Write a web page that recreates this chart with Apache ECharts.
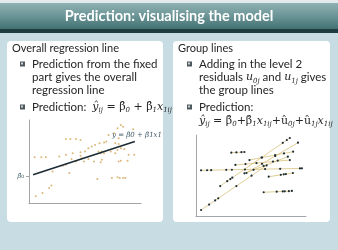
<!DOCTYPE html>
<html>
<head>
<meta charset="utf-8">
<script src="https://cdn.jsdelivr.net/npm/echarts@6/dist/echarts.min.js"></script>
<style>
  html, body { margin: 0; padding: 0; background: #c8dce3; }
  #main { width: 338px; height: 250px; }
</style>
</head>
<body>
<div id="main"></div>
<script>
// overall regression: raw points
var overallX = [82,79,84,93,71,33,37,42,46,59,63,67,69,77,80,5,11,15,27,33,39,46,50,53,56,64,65,67,73,77,79,82,85,89,94,38,42,47,30,33,21,36,53,58,64,65,80,82,88,61,74,79,81,84,86,6,12,18,20,62,46,49,76,80];
var overallY = [94,90,92,89,82,77,77,77,76,70,72,73,74,72,71,55,55,55,56,58,60,61,62,66,68,60,62,60,62,60,64,66,65,58,58,53,50,54,45,46,38,36,53,50,49,52,50,51,51,29,30,31,30,30,30,8,12,18,21,62,57,50,84,78];
var beta0 = 32.5;
var fitX = [3.6, 94.5];
var fitY = [34.1, 74.1];

// group lines
var groupX = [
    [4.6,11.9,17.4,20.2,36.7,50.5,64.2],
    [22,28.4,31.2,33,59.6,78.9,82.6,85.3],
    [45.9,60,72,92.7],
    [4.6,10.1,13.8,27.5,32.6,44.5,62.8,76.5,94.5,96.3],
    [32.1,36.7,41.3,44],
    [61.5,73.4,78.9,80.7,84.4,87.2],
    [66.1,77.1,79.8,81.7,88.1],
    [44,52.3,61.5,74.3,83.5],
    [35.8,45,55,70,85.3],
    [48.6,60,72,80,88.3]
];
var groupY = [
    [7.4,14.1,19.2,21.8,37.0,49.8,62.4],
    [37,43,45.6,47.3,72.2,90.3,93.8,96.3],
    [53.1,64.4,74,90.5],
    [56.4,56.5,56.6,57,57.1,57.4,57.9,58.2,58.7,58.8],
    [78.2,78.5,78.8,79],
    [29.3,30,30.4,30.5,30.7,30.9],
    [48.5,50.8,51.4,51.8,53.1],
    [52.7,57,61.8,68.4,73.2],
    [63,64.1,65.3,67.2,69.1],
    [69.1,72.1,75.2,77.2,79.4]
];

var FONT = 'Lato, "Liberation Sans", sans-serif';
var TXT = '#262626';

function zip(a, b) {
    return a.map(function (v, i) { return [v, b[i]]; });
}

var mathRich = {
    i: { fontFamily: 'DejaVu Serif', fontStyle: 'italic', fontSize: 11, fill: TXT, color: TXT, lineHeight: 14 },
    n: { fontFamily: 'DejaVu Serif', fontSize: 11, fill: TXT, color: TXT, lineHeight: 14 },
    s: { fontFamily: 'DejaVu Serif', fontStyle: 'italic', fontSize: 7, fill: TXT, color: TXT, lineHeight: 14, verticalAlign: 'bottom' }
};

function txt(x, y, s, size) {
    return { type: 'text', z: 10, style: {
        text: s, x: x, y: y, fill: TXT, font: (size || 11.5) + 'px ' + FONT,
        verticalAlign: 'middle', rich: mathRich } };
}

function bullet(x, y) {
    return {
        type: 'group', z: 10, children: [
            { type: 'rect', shape: { x: x, y: y - 2.5, width: 5, height: 5 }, style: { fill: '#4d575c' } },
            { type: 'rect', shape: { x: x + 1, y: y - 1.5, width: 2, height: 2 }, style: { fill: '#c9d3d6' } }
        ]
    };
}

var graphics = [
    { type: 'rect', z: 0, shape: { x: 0, y: 0, width: 338, height: 3 }, style: { fill: '#e2eaec' } },
    { type: 'rect', z: 0, shape: { x: 0, y: 3, width: 338, height: 27 },
      style: { fill: new echarts.graphic.LinearGradient(0, 0, 0, 1, [
          { offset: 0, color: '#8fb1b3' }, { offset: 0.5, color: '#6a9395' }, { offset: 1, color: '#3f6e70' }]) } },
    { type: 'rect', z: 0, shape: { x: 0, y: 29, width: 338, height: 4 }, style: { fill: '#1f3c3f' } },
    { type: 'text', z: 10, style: { text: 'Prediction: visualising the model', x: 169, y: 16, fill: '#ffffff',
      font: 'bold 14.5px ' + FONT, align: 'center', verticalAlign: 'middle' } },
    { type: 'rect', z: 0, shape: { x: 7, y: 41, width: 156, height: 181, r: 4 }, style: { fill: '#ffffff' } },
    { type: 'rect', z: 0, shape: { x: 173, y: 41, width: 157, height: 181, r: 4 }, style: { fill: '#ffffff' } },

    txt(12, 48, 'Overall regression line', 11),
    bullet(20, 64), bullet(20, 107),
    txt(32, 64, 'Prediction from the fixed'),
    txt(32, 77.5, 'part gives the overall'),
    txt(32, 90.5, 'regression line'),
    txt(32, 107, 'Prediction:  {i|ŷ}{s|ij}{n| = β̂}{s|0}{n| + β̂}{s|1}{i|x}{s|1ij}'),

    txt(178, 48, 'Group lines', 11),
    bullet(187, 64), bullet(187, 107),
    txt(199, 64, 'Adding in the level 2'),
    txt(199, 77.5, 'residuals {i|u}{s|0j} and {i|u}{s|1j} gives'),
    txt(199, 90.5, 'the group lines'),
    txt(199, 107, 'Prediction:'),
    txt(199, 121, '{i|ŷ}{s|ij}{n| = β̂}{s|0}{n|+β̂}{s|1}{i|x}{s|1ij}{n|+û}{s|0j}{n|+û}{s|1j}{i|x}{s|1ij}'),

    { type: 'text', z: 10, style: { text: 'y = β̂0 + β̂1x1', x: 112, y: 135, fill: '#3d5666',
      font: 'italic 7px "DejaVu Serif"', verticalAlign: 'middle' } }
];

var hideAxis = { show: false };
var axisLine = { show: true, lineStyle: { color: '#8a8f92', width: 0.8 } };

var series = [
    {
        type: 'scatter', xAxisIndex: 0, yAxisIndex: 0,
        data: zip(overallX, overallY),
        symbolSize: 2,
        itemStyle: { color: '#d2a557' },
        z: 3
    },
    {
        type: 'line', xAxisIndex: 0, yAxisIndex: 0,
        data: zip(fitX, fitY),
        showSymbol: false,
        lineStyle: { color: '#1d2c34', width: 1.6 },
        z: 4
    }
];

groupX.forEach(function (gx, i) {
    series.push({
        type: 'line', xAxisIndex: 1, yAxisIndex: 1,
        data: zip(gx, groupY[i]),
        showSymbol: true, symbol: 'circle', symbolSize: 2.2,
        itemStyle: { color: '#1f2d35' },
        lineStyle: { color: '#d8c27c', width: 0.8 },
        z: 3
    });
});

var chart = echarts.init(document.getElementById('main'));
chart.setOption({
    backgroundColor: '#c8dce3',
    animation: false,
    graphic: graphics,
    grid: [
        { left: 29, top: 120, width: 112, height: 83 },
        { left: 196, top: 135, width: 110, height: 81 }
    ],
    xAxis: [
        { type: 'value', gridIndex: 0, min: 0, max: 100, axisLine: axisLine, axisTick: hideAxis, axisLabel: hideAxis, splitLine: hideAxis },
        { type: 'value', gridIndex: 1, min: 0, max: 100, axisLine: axisLine, axisTick: hideAxis, axisLabel: hideAxis, splitLine: hideAxis }
    ],
    yAxis: [
        { type: 'value', gridIndex: 0, min: 0, max: 100, axisLine: axisLine,
          axisTick: { show: true, length: 3, customValues: [beta0], lineStyle: { color: '#8a8f92', width: 0.8 } },
          axisLabel: { show: true, customValues: [beta0], margin: 5,
              formatter: function () { return '{b|β̂}{s|0}'; },
              rich: {
                  b: { fontFamily: 'DejaVu Serif', fontStyle: 'italic', fontSize: 6.5, color: '#3d5666' },
                  s: { fontFamily: 'DejaVu Serif', fontSize: 4.5, color: '#3d5666', verticalAlign: 'bottom' }
              } },
          splitLine: hideAxis },
        { type: 'value', gridIndex: 1, min: 0, max: 100, axisLine: axisLine, axisTick: hideAxis, axisLabel: hideAxis, splitLine: hideAxis }
    ],
    series: series
});
</script>
</body>
</html>
